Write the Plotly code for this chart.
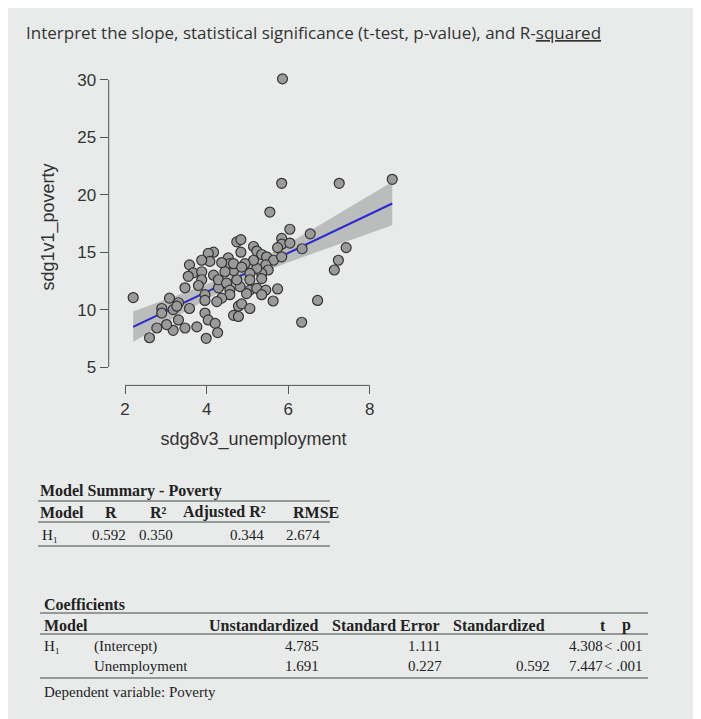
import numpy as np
import plotly.graph_objects as go

unemployment = [5.86,5.84,7.25,8.55,5.55,6.04,6.54,5.84,5.84,6.04,5.74,6.34,7.42,7.23,7.13,6.72,6.33,2.2,2.6,5.63,5.74,
 4.74,4.84,4.84,5.15,5.23,5.35,5.47,5.64,5.84,5.45,5.51,5.35,5.23,5.15,4.94,5.06,5.06,5.06,5.23,5.45,5.35,4.98,4.82,4.74,
 4.66,4.53,4.57,4.66,4.45,4.37,4.17,4.04,4.08,3.88,3.58,3.67,3.88,3.55,3.88,3.80,4.17,4.29,4.29,4.49,4.57,4.57,4.37,4.25,
 3.96,3.96,3.47,3.09,3.31,2.90,2.90,3.18,3.27,3.58,3.96,4.04,4.21,3.76,3.47,3.18,3.02,2.78,3.31,3.99,4.27,4.66,4.78,4.78,
 4.86,5.06,4.86,5.35]
poverty = [30.1,21.0,21.0,21.35,18.5,17.0,16.6,16.2,15.7,15.8,15.4,15.3,15.4,14.3,13.45,10.8,8.9,11.05,7.55,10.75,11.8,
 15.9,16.1,15.0,15.5,15.1,14.8,14.6,14.3,14.6,13.9,13.45,13.15,13.6,14.3,14.0,13.15,12.6,11.7,11.85,11.7,11.3,11.4,12.0,12.6,
 13.4,14.5,14.0,14.0,13.3,14.1,15.0,14.9,14.2,14.3,13.9,13.2,13.3,12.9,12.6,12.1,13.0,11.9,12.6,12.3,11.7,11.3,11.0,10.7,
 11.3,10.8,11.9,11.0,10.6,10.1,9.7,10.0,10.3,10.1,9.7,9.1,8.8,8.5,8.4,8.2,8.7,8.4,9.1,7.5,8.0,9.5,9.4,10.3,
 10.5,10.1,13.7,12.7]
intercept, slope = 4.785, 1.691
x_ticks = [2, 4, 6, 8]
y_ticks = [5, 10, 15, 20, 25, 30]

x = np.array(unemployment); y = np.array(poverty)
n = len(x)
xs = np.linspace(x.min(), x.max(), 60)
yhat = intercept + slope * xs
res = y - (intercept + slope * x)
s = np.sqrt((res ** 2).sum() / (n - 2))
se = s * np.sqrt(1 / n + (xs - x.mean()) ** 2 / ((x - x.mean()) ** 2).sum())
up, lo = yhat + 1.98 * se, yhat - 1.98 * se

W, H = 693, 711
OFF = 8
bg = "#e9ebea"
fig = go.Figure()
fig.add_trace(go.Scatter(x=np.concatenate([xs, xs[::-1]]), y=np.concatenate([up, lo[::-1]]),
    fill="toself", fillcolor="rgba(150,150,150,0.55)", line=dict(width=0), hoverinfo="skip"))
fig.add_trace(go.Scatter(x=xs, y=yhat, mode="lines", line=dict(color="#2a2ad0", width=2)))
fig.add_trace(go.Scatter(x=x, y=y, mode="markers",
    marker=dict(size=10, color="#9a9a9a", line=dict(color="#333", width=1.2))))

font = dict(family="Liberation Sans, Arial", size=17, color="#333")
xd = [0.1453, 0.5633]; yd = [0.4692, 0.9149]
fig.update_layout(width=W, height=H, margin=dict(l=0, r=0, t=0, b=0),
    paper_bgcolor=bg, plot_bgcolor=bg, showlegend=False, font=font,
    xaxis=dict(domain=xd, range=[1.6, 8.7], tickvals=x_ticks, showgrid=False, zeroline=False,
               ticks="outside", ticklen=8, tickcolor="#555",
               title=dict(text="sdg8v3_unemployment", font=dict(size=18), standoff=14)),
    yaxis=dict(domain=yd, range=[3.4, 31], tickvals=y_ticks, showgrid=False, zeroline=False,
               ticks="outside", ticklen=8, tickcolor="#555",
               title=dict(text="sdg1v1_poverty", font=dict(size=18), standoff=18)))
fig.add_shape(type="line", xref="x", yref="paper", x0=2, x1=8, y0=yd[0], y1=yd[0], line=dict(color="#555", width=1))
fig.add_shape(type="line", xref="paper", yref="y", x0=xd[0], x1=xd[0], y0=5, y1=30, line=dict(color="#555", width=1))

def txt(t, px, py, size=14, bold=False, fam="Liberation Serif", anchor="left", color="#222"):
    fig.add_annotation(text=f"<b>{t}</b>" if bold else t, x=(px - OFF) / W, y=1 - (py - OFF) / H, xref="paper", yref="paper",
        showarrow=False, xanchor=anchor, yanchor="middle", font=dict(family=fam, size=size, color=color))
def hline(x0, x1, py, w=1):
    yy = 1 - (py - OFF) / H
    fig.add_shape(type="line", xref="paper", yref="paper", x0=(x0 - OFF) / W, x1=(x1 - OFF) / W, y0=yy, y1=yy,
        line=dict(color="#444", width=w))

txt("Interpret the slope, statistical significance (t-test, p-value), and R-<u>squared</u>", 24, 32, 17,
    fam="Open Sans, Liberation Sans", color="#333")

txt("Model Summary - Poverty", 38, 491, 16, True)
hline(38, 330, 501)
for t, px in [("Model", 38), ("R", 103), ("R²", 148), ("Adjusted R²", 181), ("RMSE", 291)]:
    txt(t, px, 512, 16, True)
hline(38, 330, 522)
for t, px in [("H₁", 40), ("0.592", 90), ("0.350", 137), ("0.344", 228), ("2.674", 284)]:
    txt(t, px, 535, 15)
hline(38, 330, 546)

txt("Coefficients", 42, 604, 16, True)
hline(40, 648, 613)
for t, px in [("Model", 42), ("Unstandardized", 207), ("Standard Error", 330), ("Standardized", 451), ("t", 598), ("p", 620)]:
    txt(t, px, 625, 16, True)
hline(40, 648, 634)
for t, px in [("H₁", 42), ("(Intercept)", 92), ("4.785", 283), ("1.111", 406), ("4.308", 567), ("< .001", 602)]:
    txt(t, px, 646, 15)
for t, px in [("Unemployment", 92), ("1.691", 283), ("0.227", 406), ("0.592", 514), ("7.447", 567), ("< .001", 602)]:
    txt(t, px, 666, 15)
hline(40, 648, 678)
txt("Dependent variable: Poverty", 42, 692, 15)

fig.write_html("out.html")
